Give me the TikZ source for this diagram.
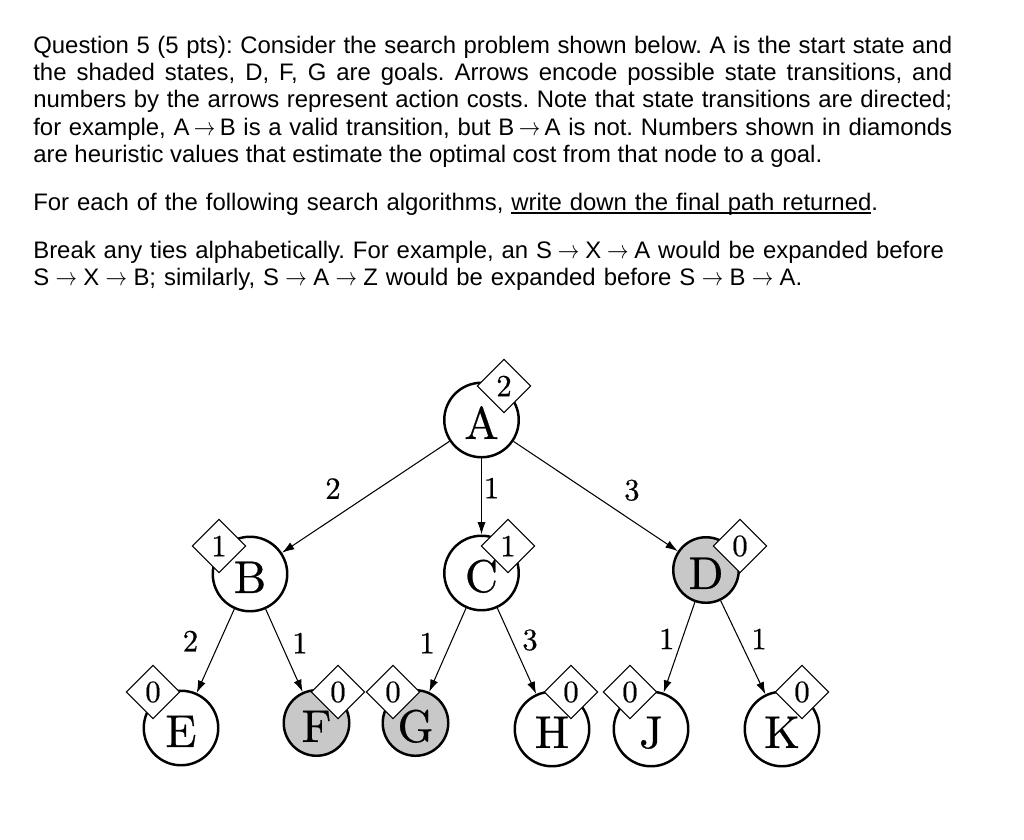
\documentclass[tikz,border=0pt]{standalone}
\usepackage{fontspec}
\usepackage{graphicx}
\newfontfamily\qfont{Liberation Sans}
\newfontfamily\treefont{lmroman10-regular.otf}[FakeBold=0.6]
\usetikzlibrary{shapes.geometric, arrows.meta}
\definecolor{goalgray}{RGB}{200,200,200}
\newsavebox\ulbox
\newcommand{\ulined}[1]{\sbox\ulbox{#1}\rlap{\rule[-1.6pt]{\wd\ulbox}{0.8pt}}\usebox\ulbox}
\newcommand{\ra}[1][2.5pt]{\kern#1\scalebox{0.85}[1]{$\rightarrow$}\kern#1}
\frenchspacing
\hyphenpenalty=10000
\exhyphenpenalty=10000

\begin{document}
\begin{tikzpicture}[
    x=0.02cm, y=-0.02cm,
    question/.style={anchor=base west, inner sep=0pt, text width=18.38cm, font=\qfont\fontsize{13.6}{15.6}\selectfont},
    state/.style={circle, draw, line width=1.4pt, minimum size=42.4pt, inner sep=0pt, text height=21.5pt, text depth=0pt, font=\treefont\fontsize{26}{26}\selectfont},
    goal/.style={state, fill=goalgray, minimum size=37.3pt},
    hval/.style={diamond, draw, fill=white, line width=0.6pt, minimum width=30.5pt, minimum height=30.5pt, inner sep=0pt, font=\treefont\fontsize{17.5}{17.5}\selectfont},
    cost/.style={inner sep=0pt, font=\treefont\fontsize{17.5}{17.5}\selectfont},
    arrow/.style={-{Latex[length=7pt,width=4.6pt]}, line width=0.6pt}
]
    \useasboundingbox (0,0) rectangle (1024,839);

    % Aufgabentext
    \node[question, align=justify] (intro) at (33,53) {Question 5 (5 pts): Consider the search problem shown below. A is the start state and\linebreak
        the shaded states, D, F, G are goals. Arrows encode possible state transitions, and\linebreak
        numbers by the arrows represent action costs. Note that state transitions are directed;\linebreak
        for example, A\ra B is a valid transition, but B\ra A is not. Numbers shown in diamonds\linebreak
        are heuristic values that estimate the optimal cost from that node to a goal.};
    \node[question, align=left] (task) at (33,210.7) {For each of the following search algorithms, \ulined{write down the final path returned}.};
    \node[question, align=left] (ties) at (33,258) {Break any ties alphabetically. For example, an S\ra[3.3pt]X\ra[3.3pt]A would be expanded before\\
        S\ra[3.6pt]X\ra[3.6pt]B; similarly, S\ra[3.6pt]A\ra[3.6pt]Z would be expanded before S\ra[3.6pt]B\ra[3.6pt]A.};

    % Zustaende
    \node[state] (A) at (481.5,420) {A};
    \node[state] (B) at (250,574) {B};
    \node[state] (C) at (481.5,573) {C};
    \node[goal]  (D) at (706,570) {D};
    \node[state] (E) at (181,728) {E};
    \node[goal]  (F) at (316.5,723) {F};
    \node[goal]  (G) at (415.5,723) {G};
    \node[state] (H) at (552,729) {H};
    \node[state] (J) at (651,729) {J};
    \node[state] (K) at (782,729) {K};

    % Uebergaenge mit Kosten
    \draw[arrow] (A) -- node[cost, shift={(-32.75,-8.5)}] (cAB) {2} (B);
    \draw[arrow] (A) -- node[cost, shift={(10,-8.5)}] (cAC) {1} (C);
    \draw[arrow] (A) -- node[cost, shift={(36.25,-6)}] (cAD) {3} (D);
    \draw[arrow] (B) -- node[cost, shift={(-25,-10)}] (cBE) {2} (E);
    \draw[arrow] (B) -- node[cost, shift={(15.75,-7.5)}] (cBF) {1} (F);
    \draw[arrow] (C) -- node[cost, shift={(-20.5,-7)}] (cCG) {1} (G);
    \draw[arrow] (C) -- node[cost, shift={(13.25,-11)}] (cCH) {3} (H);
    \draw[arrow] (D) -- node[cost, shift={(-12.5,-8.5)}] (cDJ) {1} (J);
    \draw[arrow] (D) -- node[cost, shift={(16,-8.5)}] (cDK) {1} (K);

    % Heuristikwerte
    \node[hval] (hA) at (504,386) {2};
    \node[hval] (hB) at (219,546) {1};
    \node[hval] (hC) at (508,546) {1};
    \node[hval] (hD) at (740,546) {0};
    \node[hval] (hE) at (153,692) {0};
    \node[hval] (hF) at (338,692) {0};
    \node[hval] (hG) at (393,692) {0};
    \node[hval] (hH) at (571,692) {0};
    \node[hval] (hJ) at (630,692) {0};
    \node[hval] (hK) at (802,692) {0};
\end{tikzpicture}
\end{document}
